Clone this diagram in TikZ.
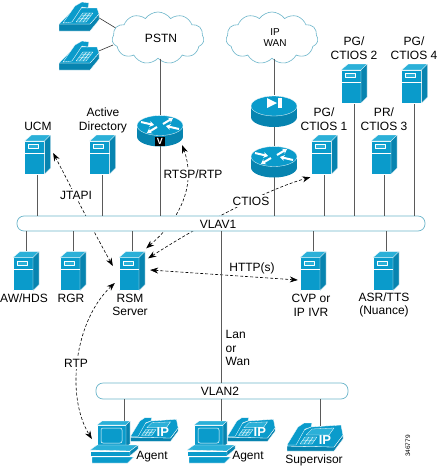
\documentclass[tikz,border=0pt]{standalone}
\usepackage{fontspec}
\setmainfont{Liberation Sans}
\usepackage{xcolor}
\usetikzlibrary{arrows.meta, calc, shapes.symbols}
\definecolor{iconblue}{HTML}{0A9BCB}
\definecolor{icondark}{HTML}{0784B0}
\definecolor{iconlight}{HTML}{2BB0D8}
\definecolor{barteal}{HTML}{6DB6CB}
\definecolor{linkgray}{HTML}{5A5A5A}
\tikzset{
  icon/.style={fill=iconblue, draw=white, line width=0.3pt, line join=round},
  icondk/.style={icon, fill=icondark},
  iconlt/.style={icon, fill=iconlight},
  holder/.style={inner sep=0pt, minimum width=#1},
  lnk/.style={draw=linkgray, line width=0.8pt},
  thinlnk/.style={draw=black!80, line width=0.6pt},
  sig/.style={<->, densely dashed, line width=0.6pt},
  rtrarrow/.style={white, line width=2pt, -{Stealth[length=4.5pt, width=6pt]}},
  bar/.style={draw=barteal, fill=white, line width=0.7pt, rounded corners=7pt, inner sep=0pt},
  netcloud/.style={shape=cloud, cloud puffs=11, cloud puff arc=110, draw=barteal, fill=white, line width=0.6pt, inner sep=0pt, minimum width=92pt, minimum height=52pt, align=center},
  lab/.style={align=center, inner sep=0.5pt},
  whitelab/.style={lab, fill=white, inner sep=1.5pt},
  serverpic/.pic={
    \path[icon] (-13,-13.5) rectangle (7,19.5);
    \path[iconlt] (-13,-13.5) -- (-6,-19.5) -- (13,-19.5) -- (7,-13.5) -- cycle;
    \path[icondk] (7,-13.5) -- (13,-19.5) -- (13,13.5) -- (7,19.5) -- cycle;
    \draw[white, line width=0.4pt] (-13,-1.5) -- (7,-1.5);
    \path[iconlt] (-9,-10) rectangle (1,-6);
  },
  cylpic/.pic={
    \fill[icondark] (-23,-5) rectangle (23,6);
    \fill[icondark] (0,6) ellipse [x radius=23, y radius=10];
    \path[icon] (0,-5) ellipse [x radius=23, y radius=10];
  },
  routerpic/.pic={
    \pic {cylpic};
    \draw[rtrarrow] (-19,-8.5) -- (-6,-5.5);
    \draw[rtrarrow] (19,-1.5) -- (6,-4.5);
    \draw[rtrarrow] (3,-6.5) -- (13,-12.5);
    \draw[rtrarrow] (-3,-3.5) -- (-13,2.5);
  },
  vpnpic/.pic={
    \pic {cylpic};
    \fill[white] (-7,-13) -- (-7,-3) -- (3,-8) -- cycle;
    \fill[white] (4,-13) rectangle (7.5,-3);
  },
  phonepic/.pic={
    \path[icondk] (-20,8) -- (11,8) -- (20,-2) -- (20,4) -- (11,15) -- (-20,15) -- cycle;
    \path[icon] (-20,8) -- (-8,-4) -- (-2,-8) -- (18,-8) -- (20,-2) -- (11,8) -- cycle;
    \path[icon] (-16,7) -- (-4,-10) -- (3,-14) -- (10,-13) -- (9,-8) -- (3,-9) -- (-7,6) -- cycle;
    \path[iconlt] (-3,6) -- (7,6) -- (14,-3) -- (4,-3) -- cycle;
    \draw[white, line width=0.4pt] (0,2.5) -- (10,2.5) (2.5,-0.5) -- (12,-0.5) (0.5,6) -- (7.5,-3) (4,6) -- (11,-3);
  },
  ipphonepic/.pic={
    \path[icondk] (-27,9) -- (20,10) -- (29,-2) -- (29,2) -- (20,14) -- (-27,14) -- cycle;
    \path[icon] (-27,9) -- (-14,-5) -- (-3,-10) -- (27,-12) -- (29,-2) -- (20,10) -- cycle;
    \path[icon] (-27,8) -- (-16,-10) -- (-10,-14) -- (-2,-14) -- (-3,-10) -- (-9,-8) -- (-18,8) -- cycle;
    \path[iconlt] (-2,-8) -- (20,-9) -- (15,-2) -- (-8,-2) -- cycle;
    \path[iconlt] (-14,7) -- (-2,7) -- (3,0) -- (-9,0) -- cycle;
    \draw[white, line width=0.4pt] (-11.5,3.5) -- (0.5,3.5) (-10,7) -- (-5,0) (-6,7) -- (-1,0);
    \node[text=white, inner sep=0pt, font=\fontsize{13}{13}\selectfont\bfseries] (ipmark) at (11,3.5) {IP};
  },
  pcpic/.pic={
    \path[icon] (-36.5,-15) rectangle (-7.5,7);
    \path[iconlt] (-36.5,-15) -- (-31.5,-19) -- (-3.5,-19) -- (-7.5,-15) -- cycle;
    \path[icondk] (-7.5,-15) -- (-3.5,-19) -- (-3.5,4) -- (-7.5,7) -- cycle;
    \draw[white, line width=0.5pt, rounded corners=2pt] (-32.5,-12) rectangle (-11.5,3);
    \path[iconlt] (-43.5,10) -- (-36.5,5) -- (4.5,5) -- (-3.5,11) -- cycle;
    \path[icon] (-43.5,11) rectangle (-3.5,16);
    \path[icondk] (-3.5,11) -- (4.5,5) -- (4.5,9) -- (-3.5,16) -- cycle;
    \path[icon] (-41.5,17) -- (0,17) -- (-6,23) -- (-41.5,23) -- cycle;
    \pic[scale=0.85] at (20,-10.5) {ipphonepic};
  }
}
\begin{document}
\begin{tikzpicture}[x=1pt, y=-1pt, >={Stealth[length=8pt, width=6pt]}, every node/.style={font=\fontsize{12}{13.5}\selectfont}]
  \path[use as bounding box, fill=white] (0,0) rectangle (439,467);
  % anchors for the icons
  \node[holder=40pt, minimum height=29pt] (phone1) at (79,16) {};
  \node[holder=40pt, minimum height=29pt] (phone2) at (79,55) {};
  \node[holder=46pt, minimum height=31pt] (rtrv) at (160,130.5) {};
  \node[holder=48pt, minimum height=32pt] (vpn) at (274,111) {};
  \node[holder=48pt, minimum height=31pt] (rtr) at (274,161.5) {};
  \node[holder=26pt, minimum height=39pt] (ucm) at (37.5,154.5) {};
  \node[holder=26pt, minimum height=39pt] (ad) at (102.5,154.5) {};
  \node[holder=26pt, minimum height=39pt] (pg1) at (324.5,154.5) {};
  \node[holder=26pt, minimum height=39pt] (pg2) at (354,83.5) {};
  \node[holder=26pt, minimum height=39pt] (pr3) at (384,154.5) {};
  \node[holder=26pt, minimum height=39pt] (pg4) at (414.5,83.5) {};
  \node[holder=26pt, minimum height=39pt] (aw) at (26,271) {};
  \node[holder=26pt, minimum height=39pt] (rgr) at (73,271) {};
  \node[holder=26pt, minimum height=39pt] (rsm) at (132,271) {};
  \node[holder=26pt, minimum height=39pt] (cvp) at (313,271) {};
  \node[holder=26pt, minimum height=39pt] (asr) at (386,271) {};
  \node[holder=87pt, minimum height=46pt] (agent1) at (133.5,440) {};
  \node[holder=87pt, minimum height=46pt] (agent2) at (230.5,440) {};
  \node[holder=56pt, minimum height=30pt] (supv) at (314,437) {};
  % signalling
  \draw[sig] ($(rsm.west)+(-6,-5)$) .. controls (90,225) and (70,185) .. ($(ucm.east)+(2.5,-1.5)$);
  \draw[sig] ($(rsm.north east)+(1,-3)$) .. controls (185,215) and (195,180) .. ($(rtrv.south east)+(-1,-1)$);
  \draw[sig] ($(rsm.north east)+(3,7)$) .. controls (200,225) and (265,190) .. ($(pg1.south west)+(-1,3)$);
  \draw[sig] ($(rsm.east)+(5,-1)$) -- ($(cvp.west)+(-2,9)$);
  \draw[sig] ($(rsm.west)+(-4,12)$) .. controls (75,320) and (65,395) .. ($(agent1.west)+(2,-1)$);
  % clouds and bars
  \node[bar, minimum width=408pt, minimum height=15pt] (vlan1) at (221,223.5) {};
  \node[bar, minimum width=252pt, minimum height=16pt] (vlan2) at (222,391) {};
  \draw[lnk] (ucm) -- (ucm |- vlan1.north);
  \draw[lnk] (ad) -- (ad |- vlan1.north);
  \draw[lnk] (rtrv) -- (rtrv |- vlan1.north);
  \draw[lnk] (rtr) -- (rtr |- vlan1.north);
  \draw[lnk] (rtr) -- (vpn);
  \draw[lnk] (pg1) -- (pg1 |- vlan1.north);
  \draw[lnk] (pg2) -- (pg2 |- vlan1.north);
  \draw[lnk] (pr3) -- (pr3 |- vlan1.north);
  \draw[lnk] (pg4) -- (pg4 |- vlan1.north);
  \draw[lnk] (aw) -- (aw |- vlan1.south);
  \draw[lnk] (rgr) -- (rgr |- vlan1.south);
  \draw[lnk] (rsm) -- (rsm |- vlan1.south);
  \draw[lnk] (cvp) -- (cvp |- vlan1.south);
  \draw[lnk] (asr) -- (asr |- vlan1.south);
  \draw[lnk] (vlan1.south) -- (vlan2.north -| vlan1.south);
  \draw[lnk] (vlan2.south -| vlan1.south) -- ($(agent2.north -| vlan1.south)+(0,6)$);
  \draw[lnk] ($(agent1.north)+(-9.5,6)$) -- ($(agent1.north)+(-9.5,-18)$);
  \draw[lnk] ($(supv.north)+(6,4)$) -- ($(supv.north)+(6,-23)$);
  \draw[thinlnk] ($(phone1)+(12,-3)$) -- (119,30);
  \draw[thinlnk] ($(phone2)+(15,-2)$) -- (113,45);
  \node[netcloud] (pstn) at (158,38) {};
  \node[netcloud] (wan) at (272,38) {};
  \draw[lnk] (pstn.south -| rtrv) -- (rtrv);
  \draw[lnk] (wan.south -| vpn) -- (vpn);
  % icons
  \pic at (phone1) {phonepic};
  \pic at (phone2) {phonepic};
  \pic at (rtrv) {routerpic};
  \pic at (vpn) {vpnpic};
  \pic at (rtr) {routerpic};
  \pic at (ucm) {serverpic};
  \pic at (ad) {serverpic};
  \pic at (pg1) {serverpic};
  \pic at (pg2) {serverpic};
  \pic at (pr3) {serverpic};
  \pic at (pg4) {serverpic};
  \pic at (aw) {serverpic};
  \pic at (rgr) {serverpic};
  \pic at (rsm) {serverpic};
  \pic at (cvp) {serverpic};
  \pic at (asr) {serverpic};
  \pic at (agent1) {pcpic};
  \pic at (agent2) {pcpic};
  \pic at (supv) {ipphonepic};
  \node[fill=black, text=white, inner sep=0pt, minimum width=10pt, minimum height=9pt, font=\fontsize{9}{9}\selectfont\bfseries] (vbadge) at ($(rtrv)+(0,11)$) {V};
  % labels
  \node[lab] (pstnlab) at (161,38) {PSTN};
  \node[lab, font=\fontsize{10}{11}\selectfont] (wanlab) at (275,37.5) {IP\\WAN};
  \node[lab] (ucmlab) at (38,126) {UCM};
  \node[lab] (adlab) at (103,120.5) {Active\\Directory};
  \node[lab] (pg1lab) at (324,119) {PG/\\CTIOS 1};
  \node[lab] (pg2lab) at (354,48) {PG/\\CTIOS 2};
  \node[lab] (pr3lab) at (384,119) {PR/\\CTIOS 3};
  \node[lab] (pg4lab) at (414,48) {PG/\\CTIOS 4};
  \node[whitelab] (rtsplab) at (193,174) {RTSP/RTP};
  \node[whitelab] (jtapilab) at (76,195) {JTAPI};
  \node[whitelab] (ctioslab) at (251,201) {CTIOS};
  \node[lab] (vlan1lab) at (218,224) {VLAV1};
  \node[lab] (awlab) at (24,298) {AW/HDS};
  \node[lab] (rgrlab) at (71,298) {RGR};
  \node[lab] (rsmlab) at (130,305) {RSM\\Server};
  \node[lab] (httplab) at (252,268) {HTTP(s)};
  \node[lab] (cvplab) at (311,305.5) {CVP or\\IP IVR};
  \node[lab] (asrlab) at (384,305) {ASR/TTS\\(Nuance)};
  \node[lab, align=left, anchor=west] (lanlab) at (225,348) {Lan\\or\\Wan};
  \node[whitelab] (rtplab) at (76,363) {RTP};
  \node[lab] (vlan2lab) at (220,391) {VLAN2};
  \node[lab] (agent1lab) at (152,457) {Agent};
  \node[lab] (agent2lab) at (248,457) {Agent};
  \node[lab] (supvlab) at (314,460) {Supervisor};
  \node[rotate=90, inner sep=0pt, font=\fontsize{6.5}{7}\selectfont] (stamp) at (408,446) {346779};
\end{tikzpicture}
\end{document}
